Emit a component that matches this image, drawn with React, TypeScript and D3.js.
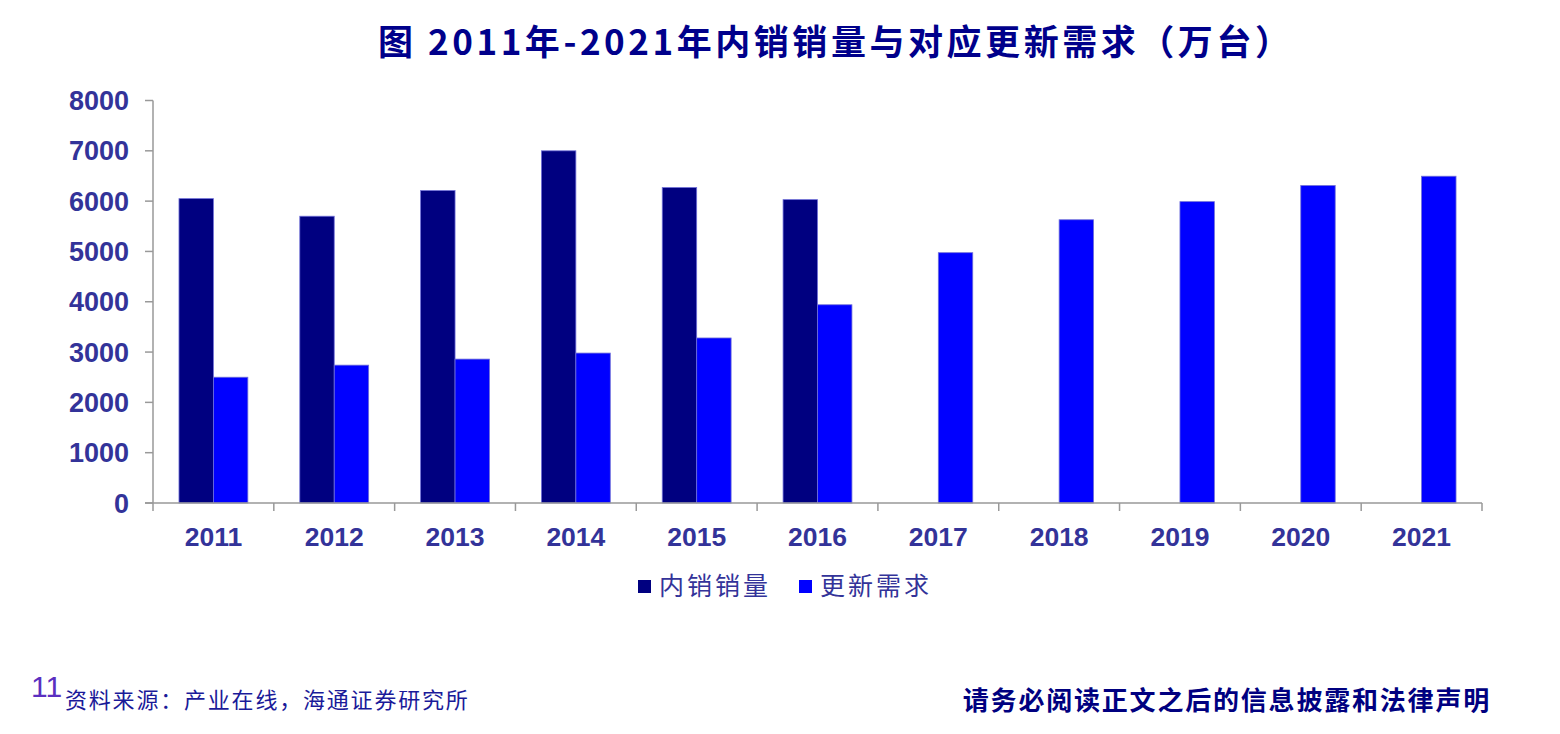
import React from "react";
import * as d3 from "d3";

const years = ["2011","2012","2013","2014","2015","2016","2017","2018","2019","2020","2021"];
const domesticSales = [6050, 5700, 6210, 7000, 6270, 6030, null, null, null, null, null];
const renewalDemand = [2500, 2740, 2860, 2980, 3280, 3940, 4975, 5630, 5990, 6310, 6495];
const yTicks = [0, 1000, 2000, 3000, 4000, 5000, 6000, 7000, 8000];
const seriesNames = ["内销销量", "更新需求"];
const titleText = "图 2011年-2021年内销销量与对应更新需求（万台）";
const sourceText = "资料来源：产业在线，海通证券研究所";
const disclaimerText = "请务必阅读正文之后的信息披露和法律声明";
const pageNumber = "11";

const W = 1560, H = 734;
const left = 153, right = 1482, top = 100.5, bottom = 503;
const axisColor = "#999999";
const labelColor = "#333399";
const colors = ["#000080", "#0000FF"];
const cjk = "'Noto Sans CJK SC', 'Noto Sans', sans-serif";
const latin = "'Liberation Sans', Arial, sans-serif";

export default function App() {
  const x = d3.scaleBand<string>().domain(years).range([left, right]).paddingInner(0).paddingOuter(0);
  const y = d3.scaleLinear().domain([0, 8000]).range([bottom, top]);
  const bw = x.bandwidth();
  const barW = bw * 0.285;
  const series = [domesticSales, renewalDemand];

  return (
    <svg width={W} height={H} style={{ position: "absolute", left: 0, top: 0, background: "#fff" }}>
      <text x={378} y={55} fontFamily={cjk} fontWeight="bold" fontSize={35} fill="#00008B"
        textLength={912} lengthAdjust="spacing">
        {titleText}
      </text>

      {/* bars */}
      {series.map((vals, si) =>
        vals.map((v, i) =>
          v == null ? null : (
            <rect
              key={`${si}-${i}`}
              x={(x(years[i]) as number) + bw / 2 - barW + si * barW}
              y={y(v)}
              width={barW}
              height={bottom - y(v)}
              fill={colors[si]}
              stroke="#7070d8"
              strokeWidth={0.8}
            />
          )
        )
      )}

      {/* y axis */}
      <line x1={left} x2={left} y1={top} y2={bottom} stroke={axisColor} strokeWidth={1.5} />
      {yTicks.map((t) => (
        <g key={t}>
          <line x1={left - 8} x2={left} y1={y(t)} y2={y(t)} stroke={axisColor} strokeWidth={1.5} />
          <text x={129} y={y(t) + 9.5} textAnchor="end" fontFamily={latin} fontWeight="bold" fontSize={27} fill={labelColor}>
            {t}
          </text>
        </g>
      ))}

      {/* x axis */}
      <line x1={left - 8} x2={right} y1={bottom} y2={bottom} stroke={axisColor} strokeWidth={1.5} />
      {years.map((yr) => (
        <line key={"t" + yr} x1={x(yr)} x2={x(yr)} y1={bottom} y2={bottom + 8} stroke={axisColor} strokeWidth={1.5} />
      ))}
      <line x1={right} x2={right} y1={bottom} y2={bottom + 8} stroke={axisColor} strokeWidth={1.5} />
      {years.map((yr) => (
        <text key={"l" + yr} x={(x(yr) as number) + bw / 2} y={546} textAnchor="middle" fontFamily={latin} fontWeight="bold" fontSize={26.5} fill={labelColor}>
          {yr}
        </text>
      ))}

      {/* legend */}
      {seriesNames.map((n, i) => (
        <g key={n} transform={`translate(${638 + i * 161},0)`}>
          <rect x={0} y={580} width={13} height={13} fill={colors[i]} />
          <text x={21} y={595} fontFamily={cjk} fontSize={25} fill={labelColor} letterSpacing={3}>
            {n}
          </text>
        </g>
      ))}

      {/* footer */}
      <text x={31} y={697} fontFamily={latin} fontSize={30} fill="#5b2fc0">
        {pageNumber}
      </text>
      <text x={65} y={708} fontFamily={cjk} fontSize={22} fill="#1a1a99" letterSpacing={1.8}>
        {sourceText}
      </text>
      <text x={1491} y={710} textAnchor="end" fontFamily={cjk} fontWeight="bold" fontSize={26} fill="#000080" letterSpacing={1.8}>
        {disclaimerText}
      </text>
    </svg>
  );
}
